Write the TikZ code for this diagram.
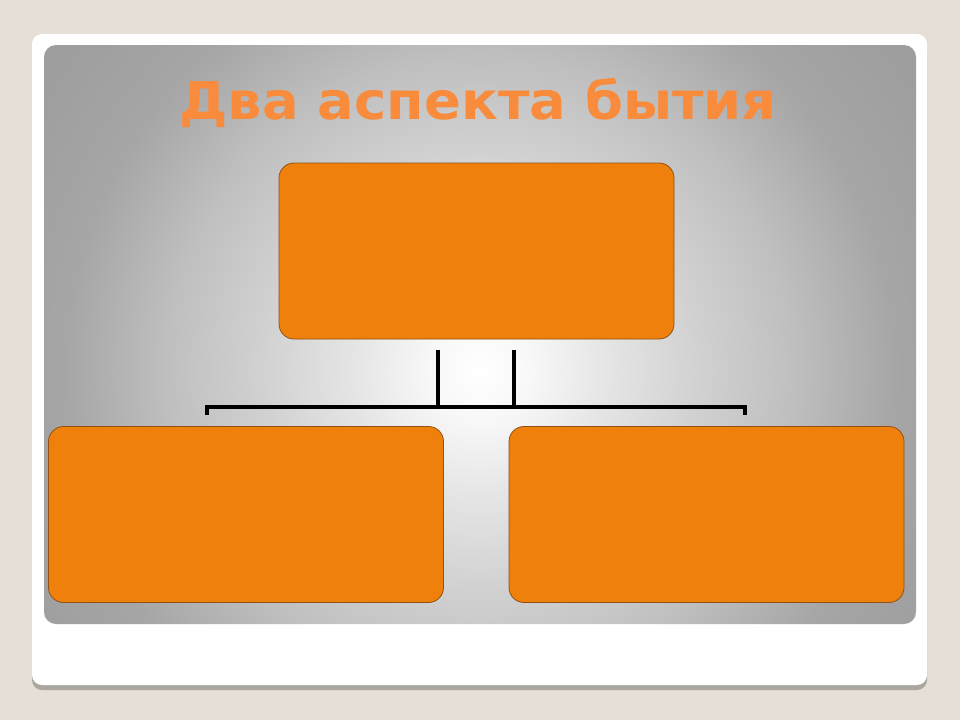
\documentclass[tikz,border=0pt]{standalone}
\usepackage{fontspec}
\setmainfont{DejaVu Sans}
\definecolor{bgbeige}{HTML}{E5DFD5}
\definecolor{cardshadow}{HTML}{A9A79F}
\definecolor{boxorange}{HTML}{F0800C}
\definecolor{boxborder}{HTML}{8E5214}
\definecolor{titleorange}{HTML}{F98B3D}
\pgfdeclareradialshading{panelshade}{\pgfpoint{0bp}{0bp}}{%
  color(0bp)=(white);
  color(2.5bp)=(white!97!black);
  color(6bp)=(white!90!black);
  color(10.5bp)=(white!82!black);
  color(15bp)=(white!75!black);
  color(20bp)=(white!65!black);
  color(25bp)=(white!62!black);
  color(50bp)=(white!62!black)}
\tikzset{
  orangebox/.style={draw=boxborder, line width=0.8pt, fill=boxorange,
    rounded corners=15pt, minimum width=395pt, minimum height=176pt,
    inner sep=0pt},
  conn/.style={draw=black, line width=3.4pt, line join=miter, line cap=butt},
}
\begin{document}
\begin{tikzpicture}[x=1pt,y=-1pt]
  \useasboundingbox (0,0) rectangle (960,720);
  \fill[bgbeige] (0,0) rectangle (960,720);
  % card shadow and card
  \fill[cardshadow, rounded corners=10pt] (32,40) rectangle (927,690);
  \fill[white, rounded corners=10pt] (32,34) rectangle (927,685);
  % gradient panel
  \begin{scope}
    \clip[rounded corners=12pt] (44,45) rectangle (916,624);
    \shade[shading=panelshade] (-40,-150) rectangle (1000,890);
  \end{scope}
  % title
  \node[anchor=base, text=titleorange, font=\fontsize{52}{62}\selectfont\bfseries, inner sep=0pt, xscale=1.045]
    (title) at (478,119) {Два аспекта бытия};
  % boxes
  \node[orangebox] (top) at (476.5,251) {};
  \node[orangebox] (left) at (246,514.5) {};
  \node[orangebox] (right) at (706.5,514.5) {};
  % connector points
  \coordinate (v1t) at (438,350);
  \coordinate (v1b) at (438,407);
  \coordinate (v2t) at (514,350);
  \coordinate (v2b) at (514,407);
  \coordinate (lt) at (207,415);
  \coordinate (lb) at (207,407);
  \coordinate (rb) at (745,407);
  \coordinate (rt) at (745,415);
  \draw[conn] (v1t) -- (v1b);
  \draw[conn] (v2t) -- (v2b);
  \draw[conn] (lt) -- (lb) -- (rb) -- (rt);
\end{tikzpicture}
\end{document}
